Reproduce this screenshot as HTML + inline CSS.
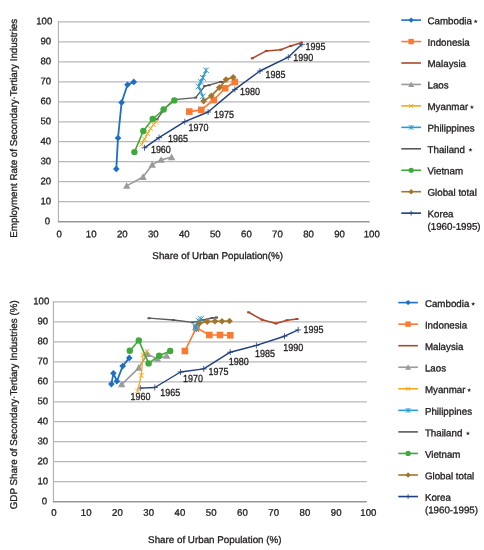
<!DOCTYPE html>
<html><head><meta charset="utf-8"><title>Urbanization charts</title>
<style>
html,body{margin:0;padding:0;background:#fff;}
svg{display:block;}
text{font-family:"Liberation Sans", sans-serif;fill:#242021;text-rendering:geometricPrecision;stroke:#242021;stroke-width:0.3px;}
.t{font-size:9.6px;}
.a{font-size:9.8px;}
.l{font-size:9.75px;}
.s{font-family:"DejaVu Sans","Liberation Sans",sans-serif;font-size:5.4px;stroke:none;}
.d{font-size:10.3px;}
</style></head><body>
<svg width="484" height="550" viewBox="0 0 484 550">
<rect width="484" height="550" fill="#ffffff"/>
<line x1="58.4" y1="201.71" x2="369.6" y2="201.71" stroke="#b9b9b9" stroke-width="1.25"/>
<line x1="58.4" y1="181.72" x2="369.6" y2="181.72" stroke="#b9b9b9" stroke-width="1.25"/>
<line x1="58.4" y1="161.73" x2="369.6" y2="161.73" stroke="#b9b9b9" stroke-width="1.25"/>
<line x1="58.4" y1="141.74" x2="369.6" y2="141.74" stroke="#b9b9b9" stroke-width="1.25"/>
<line x1="58.4" y1="121.75" x2="369.6" y2="121.75" stroke="#b9b9b9" stroke-width="1.25"/>
<line x1="58.4" y1="101.76" x2="369.6" y2="101.76" stroke="#b9b9b9" stroke-width="1.25"/>
<line x1="58.4" y1="81.77" x2="369.6" y2="81.77" stroke="#b9b9b9" stroke-width="1.25"/>
<line x1="58.4" y1="61.78" x2="369.6" y2="61.78" stroke="#b9b9b9" stroke-width="1.25"/>
<line x1="58.4" y1="41.79" x2="369.6" y2="41.79" stroke="#b9b9b9" stroke-width="1.25"/>
<line x1="58.4" y1="21.8" x2="369.6" y2="21.8" stroke="#b9b9b9" stroke-width="1.25"/>
<line x1="58.4" y1="21.3" x2="58.4" y2="221.7" stroke="#a8a8a8" stroke-width="1"/>
<line x1="57.9" y1="221.7" x2="369.6" y2="221.7" stroke="#989898" stroke-width="1.6"/>
<text transform="translate(50 224.25) rotate(0.03)" text-anchor="end" class="t">0</text>
<text transform="translate(51.2 204.26) rotate(0.03)" text-anchor="end" class="t">10</text>
<text transform="translate(51.2 184.27) rotate(0.03)" text-anchor="end" class="t">20</text>
<text transform="translate(51.2 164.28) rotate(0.03)" text-anchor="end" class="t">30</text>
<text transform="translate(51.2 144.29) rotate(0.03)" text-anchor="end" class="t">40</text>
<text transform="translate(51.2 124.3) rotate(0.03)" text-anchor="end" class="t">50</text>
<text transform="translate(51.2 104.31) rotate(0.03)" text-anchor="end" class="t">60</text>
<text transform="translate(51.2 84.32) rotate(0.03)" text-anchor="end" class="t">70</text>
<text transform="translate(51.2 64.33) rotate(0.03)" text-anchor="end" class="t">80</text>
<text transform="translate(51.2 44.34) rotate(0.03)" text-anchor="end" class="t">90</text>
<text transform="translate(52.3 24.35) rotate(0.03)" text-anchor="end" class="t">100</text>
<text transform="translate(59.06 237.25) rotate(0.03)" text-anchor="middle" class="t">0</text>
<text transform="translate(91.2 237.25) rotate(0.03)" text-anchor="middle" class="t">10</text>
<text transform="translate(122.24 237.25) rotate(0.03)" text-anchor="middle" class="t">20</text>
<text transform="translate(153.28 237.25) rotate(0.03)" text-anchor="middle" class="t">30</text>
<text transform="translate(184.32 237.25) rotate(0.03)" text-anchor="middle" class="t">40</text>
<text transform="translate(215.36 237.25) rotate(0.03)" text-anchor="middle" class="t">50</text>
<text transform="translate(246.4 237.25) rotate(0.03)" text-anchor="middle" class="t">60</text>
<text transform="translate(277.44 237.25) rotate(0.03)" text-anchor="middle" class="t">70</text>
<text transform="translate(308.48 237.25) rotate(0.03)" text-anchor="middle" class="t">80</text>
<text transform="translate(339.52 237.25) rotate(0.03)" text-anchor="middle" class="t">90</text>
<text transform="translate(371.76 237.25) rotate(0.03)" text-anchor="middle" class="t">100</text>
<text transform="translate(217.7 259) rotate(0.03)" text-anchor="middle" class="a">Share of Urban Population(%)</text>
<text transform="translate(17.2 128.3) rotate(-90)" text-anchor="middle" class="a">Employment Rate of Secondary·Tertiary Industries</text>
<path d="M144.5 147.8L159 137.6L184.8 121.7L208.1 112L234.9 89.4L259.9 71L288.3 57.2L301.9 44.3" stroke="#1e3f80" stroke-width="1.45" fill="none" stroke-linejoin="round"/><path d="M141.5 147.8L147.5 147.8M144.5 144.8L144.5 150.8" stroke="#1e3f80" stroke-width="0.8" fill="none"/><path d="M156 137.6L162 137.6M159 134.6L159 140.6" stroke="#1e3f80" stroke-width="0.8" fill="none"/><path d="M181.8 121.7L187.8 121.7M184.8 118.7L184.8 124.7" stroke="#1e3f80" stroke-width="0.8" fill="none"/><path d="M205.1 112L211.1 112M208.1 109L208.1 115" stroke="#1e3f80" stroke-width="0.8" fill="none"/><path d="M231.9 89.4L237.9 89.4M234.9 86.4L234.9 92.4" stroke="#1e3f80" stroke-width="0.8" fill="none"/><path d="M256.9 71L262.9 71M259.9 68L259.9 74" stroke="#1e3f80" stroke-width="0.8" fill="none"/><path d="M285.3 57.2L291.3 57.2M288.3 54.2L288.3 60.2" stroke="#1e3f80" stroke-width="0.8" fill="none"/><path d="M298.9 44.3L304.9 44.3M301.9 41.3L301.9 47.3" stroke="#1e3f80" stroke-width="0.8" fill="none"/>
<path d="M157 119.3L165 108L174.5 99.6L195.7 97.6L204.8 86L209 85.2L220.5 81.9L223 81.9" stroke="#5a5a5a" stroke-width="1.35" fill="none" stroke-linejoin="round"/><rect x="155.5" y="118.3" width="3" height="2" fill="#5a5a5a"/><rect x="163.5" y="107" width="3" height="2" fill="#5a5a5a"/><rect x="173" y="98.6" width="3" height="2" fill="#5a5a5a"/><rect x="194.2" y="96.6" width="3" height="2" fill="#5a5a5a"/><rect x="203.3" y="85" width="3" height="2" fill="#5a5a5a"/><rect x="207.5" y="84.2" width="3" height="2" fill="#5a5a5a"/><rect x="219" y="80.9" width="3" height="2" fill="#5a5a5a"/><rect x="221.5" y="80.9" width="3" height="2" fill="#5a5a5a"/>
<path d="M126.7 185.9L143 177L152.2 164.7L161.1 159.9L171.6 157.3" stroke="#9b9b9b" stroke-width="1.6" fill="none" stroke-linejoin="round"/><path d="M126.7 182.2L130.4 188.86L123 188.86Z" fill="#9b9b9b"/><path d="M143 173.3L146.7 179.96L139.3 179.96Z" fill="#9b9b9b"/><path d="M152.2 161L155.9 167.66L148.5 167.66Z" fill="#9b9b9b"/><path d="M161.1 156.2L164.8 162.86L157.4 162.86Z" fill="#9b9b9b"/><path d="M171.6 153.6L175.3 160.26L167.9 160.26Z" fill="#9b9b9b"/>
<path d="M141.5 144.6L144.5 139L147.5 133.6L150.5 128.6L153.5 124.6L156 121.6" stroke="#f6a81c" stroke-width="1.3" fill="none" stroke-linejoin="round"/><path d="M139.2 142.3L143.8 146.9M139.2 146.9L143.8 142.3" stroke="#f6a81c" stroke-width="1" fill="none"/><path d="M142.2 136.7L146.8 141.3M142.2 141.3L146.8 136.7" stroke="#f6a81c" stroke-width="1" fill="none"/><path d="M145.2 131.3L149.8 135.9M145.2 135.9L149.8 131.3" stroke="#f6a81c" stroke-width="1" fill="none"/><path d="M148.2 126.3L152.8 130.9M148.2 130.9L152.8 126.3" stroke="#f6a81c" stroke-width="1" fill="none"/><path d="M151.2 122.3L155.8 126.9M151.2 126.9L155.8 122.3" stroke="#f6a81c" stroke-width="1" fill="none"/><path d="M153.7 119.3L158.3 123.9M153.7 123.9L158.3 119.3" stroke="#f6a81c" stroke-width="1" fill="none"/>
<path d="M252.3 58.3L266.4 50.9L280.8 49.7L290.7 45.9L301.2 42.7" stroke="#a9482a" stroke-width="1.55" fill="none" stroke-linejoin="round"/><rect x="250.8" y="57.3" width="3" height="2" fill="#a9482a"/><rect x="264.9" y="49.9" width="3" height="2" fill="#a9482a"/><rect x="279.3" y="48.7" width="3" height="2" fill="#a9482a"/><rect x="289.2" y="44.9" width="3" height="2" fill="#a9482a"/><rect x="299.7" y="41.7" width="3" height="2" fill="#a9482a"/>
<path d="M202.8 96.4L198.6 86.4L200.7 81.9L202.8 77.8L206.1 70.3" stroke="#2b9ad8" stroke-width="1.65" fill="none" stroke-linejoin="round"/><path d="M200 93.6L205.6 99.2M200 99.2L205.6 93.6M202.8 93.6L202.8 99.2" stroke="#2b9ad8" stroke-width="1" fill="none"/><path d="M195.8 83.6L201.4 89.2M195.8 89.2L201.4 83.6M198.6 83.6L198.6 89.2" stroke="#2b9ad8" stroke-width="1" fill="none"/><path d="M197.9 79.1L203.5 84.7M197.9 84.7L203.5 79.1M200.7 79.1L200.7 84.7" stroke="#2b9ad8" stroke-width="1" fill="none"/><path d="M200 75L205.6 80.6M200 80.6L205.6 75M202.8 75L202.8 80.6" stroke="#2b9ad8" stroke-width="1" fill="none"/><path d="M203.3 67.5L208.9 73.1M203.3 73.1L208.9 67.5M206.1 67.5L206.1 73.1" stroke="#2b9ad8" stroke-width="1" fill="none"/>
<path d="M189.3 111.6L201.3 109.9L213.7 100L225.1 88.2L234.8 82" stroke="#fb7a33" stroke-width="1.65" fill="none" stroke-linejoin="round"/><rect x="186" y="108.3" width="6.6" height="6.6" fill="#fb7a33"/><rect x="198" y="106.6" width="6.6" height="6.6" fill="#fb7a33"/><rect x="210.4" y="96.7" width="6.6" height="6.6" fill="#fb7a33"/><rect x="221.8" y="84.9" width="6.6" height="6.6" fill="#fb7a33"/><rect x="231.5" y="78.7" width="6.6" height="6.6" fill="#fb7a33"/>
<path d="M203.6 101.1L211.3 95.8L219.3 87.6L226 79.6L233.2 77.2" stroke="#a4742a" stroke-width="1.65" fill="none" stroke-linejoin="round"/><path d="M203.6 97.8L206.9 101.1L203.6 104.4L200.3 101.1Z" fill="#a4742a"/><path d="M211.3 92.5L214.6 95.8L211.3 99.1L208 95.8Z" fill="#a4742a"/><path d="M219.3 84.3L222.6 87.6L219.3 90.9L216 87.6Z" fill="#a4742a"/><path d="M226 76.3L229.3 79.6L226 82.9L222.7 79.6Z" fill="#a4742a"/><path d="M233.2 73.9L236.5 77.2L233.2 80.5L229.9 77.2Z" fill="#a4742a"/>
<path d="M134.4 152.1L143.3 131L152.7 119L163.6 109.5L174.3 100.4" stroke="#3daa3a" stroke-width="1.55" fill="none" stroke-linejoin="round"/><circle cx="134.4" cy="152.1" r="3.2" fill="#3daa3a"/><circle cx="143.3" cy="131" r="3.2" fill="#3daa3a"/><circle cx="152.7" cy="119" r="3.2" fill="#3daa3a"/><circle cx="163.6" cy="109.5" r="3.2" fill="#3daa3a"/><circle cx="174.3" cy="100.4" r="3.2" fill="#3daa3a"/>
<path d="M116.3 168.9L118 138L121.6 102.5L127.5 84.7L133.8 81.9" stroke="#1c6fc4" stroke-width="1.8" fill="none" stroke-linejoin="round"/><path d="M116.3 165.6L119.6 168.9L116.3 172.2L113 168.9Z" fill="#1c6fc4"/><path d="M118 134.7L121.3 138L118 141.3L114.7 138Z" fill="#1c6fc4"/><path d="M121.6 99.2L124.9 102.5L121.6 105.8L118.3 102.5Z" fill="#1c6fc4"/><path d="M127.5 81.4L130.8 84.7L127.5 88L124.2 84.7Z" fill="#1c6fc4"/><path d="M133.8 78.6L137.1 81.9L133.8 85.2L130.5 81.9Z" fill="#1c6fc4"/>
<text transform="translate(150.9 153.1) rotate(0.03) scale(0.87 1)" class="d">1960</text>
<text transform="translate(168 141.6) rotate(0.03) scale(0.87 1)" class="d">1965</text>
<text transform="translate(188.5 131.4) rotate(0.03) scale(0.87 1)" class="d">1970</text>
<text transform="translate(214.1 118) rotate(0.03) scale(0.87 1)" class="d">1975</text>
<text transform="translate(240 94.9) rotate(0.03) scale(0.87 1)" class="d">1980</text>
<text transform="translate(265.5 77.5) rotate(0.03) scale(0.87 1)" class="d">1985</text>
<text transform="translate(293.2 60.7) rotate(0.03) scale(0.87 1)" class="d">1990</text>
<text transform="translate(305.6 49.5) rotate(0.03) scale(0.87 1)" class="d">1995</text>
<line x1="401.3" y1="20.1" x2="421" y2="20.1" stroke="#1c6fc4" stroke-width="1.6"/>
<path d="M411.15 17.39L413.86 20.1L411.15 22.81L408.44 20.1Z" fill="#1c6fc4"/>
<text transform="translate(427.5 24.2) rotate(0.03)" class="l">Cambodia<tspan class="s" dx="1.3" dy="-1.1">★</tspan></text>
<line x1="401.3" y1="41.55" x2="421" y2="41.55" stroke="#fb7a33" stroke-width="1.6"/>
<rect x="408.44" y="38.84" width="5.41" height="5.41" fill="#fb7a33"/>
<text transform="translate(427.5 45.65) rotate(0.03)" class="l">Indonesia</text>
<line x1="401.3" y1="63" x2="421" y2="63" stroke="#a9482a" stroke-width="1.6"/>
<text transform="translate(427.5 67.1) rotate(0.03)" class="l">Malaysia</text>
<line x1="401.3" y1="84.45" x2="421" y2="84.45" stroke="#9b9b9b" stroke-width="1.6"/>
<path d="M411.15 81.42L414.18 86.88L408.12 86.88Z" fill="#9b9b9b"/>
<text transform="translate(427.5 88.55) rotate(0.03)" class="l">Laos</text>
<line x1="401.3" y1="105.9" x2="421" y2="105.9" stroke="#f6a81c" stroke-width="1.6"/>
<path d="M409.26 104.01L413.04 107.79M409.26 107.79L413.04 104.01" stroke="#f6a81c" stroke-width="1" fill="none"/>
<text transform="translate(427.5 110) rotate(0.03)" class="l">Myanmar<tspan class="s" dx="1.3" dy="-1.1">★</tspan></text>
<line x1="401.3" y1="127.35" x2="421" y2="127.35" stroke="#2b9ad8" stroke-width="1.6"/>
<path d="M408.85 125.05L413.45 129.65M408.85 129.65L413.45 125.05M411.15 125.05L411.15 129.65" stroke="#2b9ad8" stroke-width="1" fill="none"/>
<text transform="translate(427.5 131.45) rotate(0.03)" class="l">Philippines</text>
<line x1="401.3" y1="148.8" x2="421" y2="148.8" stroke="#5a5a5a" stroke-width="1.6"/>
<text transform="translate(427.5 152.9) rotate(0.03)" class="l">Thailand<tspan class="s" dx="3.2" dy="-1.1">★</tspan></text>
<line x1="401.3" y1="170.25" x2="421" y2="170.25" stroke="#3daa3a" stroke-width="1.6"/>
<circle cx="411.15" cy="170.25" r="2.62" fill="#3daa3a"/>
<text transform="translate(427.5 174.35) rotate(0.03)" class="l">Vietnam</text>
<line x1="401.3" y1="191.7" x2="421" y2="191.7" stroke="#a4742a" stroke-width="1.6"/>
<path d="M411.15 188.99L413.86 191.7L411.15 194.41L408.44 191.7Z" fill="#a4742a"/>
<text transform="translate(427.5 195.8) rotate(0.03)" class="l">Global total</text>
<line x1="401.3" y1="213.15" x2="421" y2="213.15" stroke="#1e3f80" stroke-width="1.6"/>
<path d="M408.69 213.15L413.61 213.15M411.15 210.69L411.15 215.61" stroke="#1e3f80" stroke-width="0.8" fill="none"/>
<text transform="translate(427.5 217.25) rotate(0.03)" class="l">Korea</text>
<text transform="translate(427.5 229.65) rotate(0.03)" class="l">(1960-1995)</text>
<line x1="53.4" y1="481.71" x2="366.8" y2="481.71" stroke="#b9b9b9" stroke-width="1.25"/>
<line x1="53.4" y1="461.72" x2="366.8" y2="461.72" stroke="#b9b9b9" stroke-width="1.25"/>
<line x1="53.4" y1="441.73" x2="366.8" y2="441.73" stroke="#b9b9b9" stroke-width="1.25"/>
<line x1="53.4" y1="421.74" x2="366.8" y2="421.74" stroke="#b9b9b9" stroke-width="1.25"/>
<line x1="53.4" y1="401.75" x2="366.8" y2="401.75" stroke="#b9b9b9" stroke-width="1.25"/>
<line x1="53.4" y1="381.76" x2="366.8" y2="381.76" stroke="#b9b9b9" stroke-width="1.25"/>
<line x1="53.4" y1="361.77" x2="366.8" y2="361.77" stroke="#b9b9b9" stroke-width="1.25"/>
<line x1="53.4" y1="341.78" x2="366.8" y2="341.78" stroke="#b9b9b9" stroke-width="1.25"/>
<line x1="53.4" y1="321.79" x2="366.8" y2="321.79" stroke="#b9b9b9" stroke-width="1.25"/>
<line x1="53.4" y1="301.8" x2="366.8" y2="301.8" stroke="#b9b9b9" stroke-width="1.25"/>
<line x1="53.4" y1="301.3" x2="53.4" y2="501.7" stroke="#a8a8a8" stroke-width="1"/>
<line x1="52.9" y1="501.7" x2="366.8" y2="501.7" stroke="#989898" stroke-width="1.6"/>
<text transform="translate(47 504.25) rotate(0.03)" text-anchor="end" class="t">0</text>
<text transform="translate(48.2 484.26) rotate(0.03)" text-anchor="end" class="t">10</text>
<text transform="translate(48.2 464.27) rotate(0.03)" text-anchor="end" class="t">20</text>
<text transform="translate(48.2 444.28) rotate(0.03)" text-anchor="end" class="t">30</text>
<text transform="translate(48.2 424.29) rotate(0.03)" text-anchor="end" class="t">40</text>
<text transform="translate(48.2 404.3) rotate(0.03)" text-anchor="end" class="t">50</text>
<text transform="translate(48.2 384.31) rotate(0.03)" text-anchor="end" class="t">60</text>
<text transform="translate(48.2 364.32) rotate(0.03)" text-anchor="end" class="t">70</text>
<text transform="translate(48.2 344.33) rotate(0.03)" text-anchor="end" class="t">80</text>
<text transform="translate(48.2 324.34) rotate(0.03)" text-anchor="end" class="t">90</text>
<text transform="translate(49.3 304.35) rotate(0.03)" text-anchor="end" class="t">100</text>
<text transform="translate(53.94 515.8) rotate(0.03)" text-anchor="middle" class="t">0</text>
<text transform="translate(86.19 515.8) rotate(0.03)" text-anchor="middle" class="t">10</text>
<text transform="translate(117.44 515.8) rotate(0.03)" text-anchor="middle" class="t">20</text>
<text transform="translate(148.69 515.8) rotate(0.03)" text-anchor="middle" class="t">30</text>
<text transform="translate(179.94 515.8) rotate(0.03)" text-anchor="middle" class="t">40</text>
<text transform="translate(211.19 515.8) rotate(0.03)" text-anchor="middle" class="t">50</text>
<text transform="translate(242.44 515.8) rotate(0.03)" text-anchor="middle" class="t">60</text>
<text transform="translate(273.69 515.8) rotate(0.03)" text-anchor="middle" class="t">70</text>
<text transform="translate(304.94 515.8) rotate(0.03)" text-anchor="middle" class="t">80</text>
<text transform="translate(336.19 515.8) rotate(0.03)" text-anchor="middle" class="t">90</text>
<text transform="translate(368.34 515.8) rotate(0.03)" text-anchor="middle" class="t">100</text>
<text transform="translate(214.8 543) rotate(0.03)" text-anchor="middle" class="a">Share of Urban Population (%)</text>
<text transform="translate(17 404.8) rotate(-90)" text-anchor="middle" class="a">GDP Share of Secondary·Tertiary Industries (%)</text>
<path d="M140.3 388.1L154.8 387.5L180.5 372L203.7 368.9L230.2 352.2L256.4 345.4L284.5 336.2L298.2 329.9" stroke="#1e3f80" stroke-width="1.45" fill="none" stroke-linejoin="round"/><path d="M137.3 388.1L143.3 388.1M140.3 385.1L140.3 391.1" stroke="#1e3f80" stroke-width="0.8" fill="none"/><path d="M151.8 387.5L157.8 387.5M154.8 384.5L154.8 390.5" stroke="#1e3f80" stroke-width="0.8" fill="none"/><path d="M177.5 372L183.5 372M180.5 369L180.5 375" stroke="#1e3f80" stroke-width="0.8" fill="none"/><path d="M200.7 368.9L206.7 368.9M203.7 365.9L203.7 371.9" stroke="#1e3f80" stroke-width="0.8" fill="none"/><path d="M227.2 352.2L233.2 352.2M230.2 349.2L230.2 355.2" stroke="#1e3f80" stroke-width="0.8" fill="none"/><path d="M253.4 345.4L259.4 345.4M256.4 342.4L256.4 348.4" stroke="#1e3f80" stroke-width="0.8" fill="none"/><path d="M281.5 336.2L287.5 336.2M284.5 333.2L284.5 339.2" stroke="#1e3f80" stroke-width="0.8" fill="none"/><path d="M295.2 329.9L301.2 329.9M298.2 326.9L298.2 332.9" stroke="#1e3f80" stroke-width="0.8" fill="none"/>
<path d="M149 318.2L173.3 320L192.7 322.4L203 320L212 318L216.5 317.5" stroke="#5a5a5a" stroke-width="1.35" fill="none" stroke-linejoin="round"/><rect x="147.5" y="317.2" width="3" height="2" fill="#5a5a5a"/><rect x="171.8" y="319" width="3" height="2" fill="#5a5a5a"/><rect x="191.2" y="321.4" width="3" height="2" fill="#5a5a5a"/><rect x="201.5" y="319" width="3" height="2" fill="#5a5a5a"/><rect x="210.5" y="317" width="3" height="2" fill="#5a5a5a"/><rect x="215" y="316.5" width="3" height="2" fill="#5a5a5a"/>
<path d="M121.7 384.3L138.8 367.8L147.5 354.1L157.4 358.9L166.7 355.8" stroke="#9b9b9b" stroke-width="1.6" fill="none" stroke-linejoin="round"/><path d="M121.7 380.6L125.4 387.26L118 387.26Z" fill="#9b9b9b"/><path d="M138.8 364.1L142.5 370.76L135.1 370.76Z" fill="#9b9b9b"/><path d="M147.5 350.4L151.2 357.06L143.8 357.06Z" fill="#9b9b9b"/><path d="M157.4 355.2L161.1 361.86L153.7 361.86Z" fill="#9b9b9b"/><path d="M166.7 352.1L170.4 358.76L163 358.76Z" fill="#9b9b9b"/>
<path d="M137.6 390.9L141.3 375.4L143 354.8L147.1 351.2" stroke="#f6a81c" stroke-width="1.3" fill="none" stroke-linejoin="round"/><path d="M135.3 388.6L139.9 393.2M135.3 393.2L139.9 388.6" stroke="#f6a81c" stroke-width="1" fill="none"/><path d="M139 373.1L143.6 377.7M139 377.7L143.6 373.1" stroke="#f6a81c" stroke-width="1" fill="none"/><path d="M140.7 352.5L145.3 357.1M140.7 357.1L145.3 352.5" stroke="#f6a81c" stroke-width="1" fill="none"/><path d="M144.8 348.9L149.4 353.5M144.8 353.5L149.4 348.9" stroke="#f6a81c" stroke-width="1" fill="none"/>
<path d="M248.6 312.3L262.2 319.8L275.9 323.5L287 320.3L297 319" stroke="#a9482a" stroke-width="1.55" fill="none" stroke-linejoin="round"/><rect x="247.1" y="311.3" width="3" height="2" fill="#a9482a"/><rect x="260.7" y="318.8" width="3" height="2" fill="#a9482a"/><rect x="274.4" y="322.5" width="3" height="2" fill="#a9482a"/><rect x="285.5" y="319.3" width="3" height="2" fill="#a9482a"/><rect x="295.5" y="318" width="3" height="2" fill="#a9482a"/>
<path d="M184.9 351L196.4 327.6L209.3 335L220 335L230.3 335.3" stroke="#fb7a33" stroke-width="1.65" fill="none" stroke-linejoin="round"/><rect x="181.6" y="347.7" width="6.6" height="6.6" fill="#fb7a33"/><rect x="193.1" y="324.3" width="6.6" height="6.6" fill="#fb7a33"/><rect x="206" y="331.7" width="6.6" height="6.6" fill="#fb7a33"/><rect x="216.7" y="331.7" width="6.6" height="6.6" fill="#fb7a33"/><rect x="227" y="332" width="6.6" height="6.6" fill="#fb7a33"/>
<path d="M201 318.9L198.9 321L196.9 324.1L195.2 326.8L196.4 329.3" stroke="#2b9ad8" stroke-width="1.65" fill="none" stroke-linejoin="round"/><path d="M198.2 316.1L203.8 321.7M198.2 321.7L203.8 316.1M201 316.1L201 321.7" stroke="#2b9ad8" stroke-width="1" fill="none"/><path d="M196.1 318.2L201.7 323.8M196.1 323.8L201.7 318.2M198.9 318.2L198.9 323.8" stroke="#2b9ad8" stroke-width="1" fill="none"/><path d="M194.1 321.3L199.7 326.9M194.1 326.9L199.7 321.3M196.9 321.3L196.9 326.9" stroke="#2b9ad8" stroke-width="1" fill="none"/><path d="M192.4 324L198 329.6M192.4 329.6L198 324M195.2 324L195.2 329.6" stroke="#2b9ad8" stroke-width="1" fill="none"/><path d="M193.6 326.5L199.2 332.1M193.6 332.1L199.2 326.5M196.4 326.5L196.4 332.1" stroke="#2b9ad8" stroke-width="1" fill="none"/>
<path d="M199.5 323.2L207.2 321.6L215 321.2L222 321.2L229.5 321" stroke="#a4742a" stroke-width="1.65" fill="none" stroke-linejoin="round"/><path d="M199.5 319.9L202.8 323.2L199.5 326.5L196.2 323.2Z" fill="#a4742a"/><path d="M207.2 318.3L210.5 321.6L207.2 324.9L203.9 321.6Z" fill="#a4742a"/><path d="M215 317.9L218.3 321.2L215 324.5L211.7 321.2Z" fill="#a4742a"/><path d="M222 317.9L225.3 321.2L222 324.5L218.7 321.2Z" fill="#a4742a"/><path d="M229.5 317.7L232.8 321L229.5 324.3L226.2 321Z" fill="#a4742a"/>
<path d="M129.8 350.7L138.8 340.4L148.6 363.4L159.1 355.7L170.2 351" stroke="#3daa3a" stroke-width="1.55" fill="none" stroke-linejoin="round"/><circle cx="129.8" cy="350.7" r="3.2" fill="#3daa3a"/><circle cx="138.8" cy="340.4" r="3.2" fill="#3daa3a"/><circle cx="148.6" cy="363.4" r="3.2" fill="#3daa3a"/><circle cx="159.1" cy="355.7" r="3.2" fill="#3daa3a"/><circle cx="170.2" cy="351" r="3.2" fill="#3daa3a"/>
<path d="M111.4 384.1L113.4 373.3L116.9 381.2L122.7 366.1L129.3 357.9" stroke="#1c6fc4" stroke-width="1.8" fill="none" stroke-linejoin="round"/><path d="M111.4 380.8L114.7 384.1L111.4 387.4L108.1 384.1Z" fill="#1c6fc4"/><path d="M113.4 370L116.7 373.3L113.4 376.6L110.1 373.3Z" fill="#1c6fc4"/><path d="M116.9 377.9L120.2 381.2L116.9 384.5L113.6 381.2Z" fill="#1c6fc4"/><path d="M122.7 362.8L126 366.1L122.7 369.4L119.4 366.1Z" fill="#1c6fc4"/><path d="M129.3 354.6L132.6 357.9L129.3 361.2L126 357.9Z" fill="#1c6fc4"/>
<text transform="translate(130.6 400) rotate(0.03) scale(0.87 1)" class="d">1960</text>
<text transform="translate(160.3 395.5) rotate(0.03) scale(0.87 1)" class="d">1965</text>
<text transform="translate(183 381.7) rotate(0.03) scale(0.87 1)" class="d">1970</text>
<text transform="translate(208.5 375.1) rotate(0.03) scale(0.87 1)" class="d">1975</text>
<text transform="translate(228.8 365.3) rotate(0.03) scale(0.87 1)" class="d">1980</text>
<text transform="translate(255 357.4) rotate(0.03) scale(0.87 1)" class="d">1985</text>
<text transform="translate(283.3 350.6) rotate(0.03) scale(0.87 1)" class="d">1990</text>
<text transform="translate(303.6 333.3) rotate(0.03) scale(0.87 1)" class="d">1995</text>
<line x1="398.3" y1="302.6" x2="417.9" y2="302.6" stroke="#1c6fc4" stroke-width="1.6"/>
<path d="M408.1 299.89L410.81 302.6L408.1 305.31L405.39 302.6Z" fill="#1c6fc4"/>
<text transform="translate(424.9 306.9) rotate(0.03)" class="l">Cambodia<tspan class="s" dx="1.3" dy="-1.1">★</tspan></text>
<line x1="398.3" y1="324.15" x2="417.9" y2="324.15" stroke="#fb7a33" stroke-width="1.6"/>
<rect x="405.39" y="321.44" width="5.41" height="5.41" fill="#fb7a33"/>
<text transform="translate(424.9 328.45) rotate(0.03)" class="l">Indonesia</text>
<line x1="398.3" y1="345.7" x2="417.9" y2="345.7" stroke="#a9482a" stroke-width="1.6"/>
<text transform="translate(424.9 350) rotate(0.03)" class="l">Malaysia</text>
<line x1="398.3" y1="367.25" x2="417.9" y2="367.25" stroke="#9b9b9b" stroke-width="1.6"/>
<path d="M408.1 364.22L411.13 369.68L405.07 369.68Z" fill="#9b9b9b"/>
<text transform="translate(424.9 371.55) rotate(0.03)" class="l">Laos</text>
<line x1="398.3" y1="388.8" x2="417.9" y2="388.8" stroke="#f6a81c" stroke-width="1.6"/>
<path d="M406.21 386.91L409.99 390.69M406.21 390.69L409.99 386.91" stroke="#f6a81c" stroke-width="1" fill="none"/>
<text transform="translate(424.9 393.1) rotate(0.03)" class="l">Myanmar<tspan class="s" dx="1.3" dy="-1.1">★</tspan></text>
<line x1="398.3" y1="410.35" x2="417.9" y2="410.35" stroke="#2b9ad8" stroke-width="1.6"/>
<path d="M405.8 408.05L410.4 412.65M405.8 412.65L410.4 408.05M408.1 408.05L408.1 412.65" stroke="#2b9ad8" stroke-width="1" fill="none"/>
<text transform="translate(424.9 414.65) rotate(0.03)" class="l">Philippines</text>
<line x1="398.3" y1="431.9" x2="417.9" y2="431.9" stroke="#5a5a5a" stroke-width="1.6"/>
<text transform="translate(424.9 436.2) rotate(0.03)" class="l">Thailand<tspan class="s" dx="3.2" dy="-1.1">★</tspan></text>
<line x1="398.3" y1="453.45" x2="417.9" y2="453.45" stroke="#3daa3a" stroke-width="1.6"/>
<circle cx="408.1" cy="453.45" r="2.62" fill="#3daa3a"/>
<text transform="translate(424.9 457.75) rotate(0.03)" class="l">Vietnam</text>
<line x1="398.3" y1="475" x2="417.9" y2="475" stroke="#a4742a" stroke-width="1.6"/>
<path d="M408.1 472.29L410.81 475L408.1 477.71L405.39 475Z" fill="#a4742a"/>
<text transform="translate(424.9 479.3) rotate(0.03)" class="l">Global total</text>
<line x1="398.3" y1="496.55" x2="417.9" y2="496.55" stroke="#1e3f80" stroke-width="1.6"/>
<path d="M405.64 496.55L410.56 496.55M408.1 494.09L408.1 499.01" stroke="#1e3f80" stroke-width="0.8" fill="none"/>
<text transform="translate(424.9 500.85) rotate(0.03)" class="l">Korea</text>
<text transform="translate(424.9 513.25) rotate(0.03)" class="l">(1960-1995)</text>
</svg>
</body></html>
